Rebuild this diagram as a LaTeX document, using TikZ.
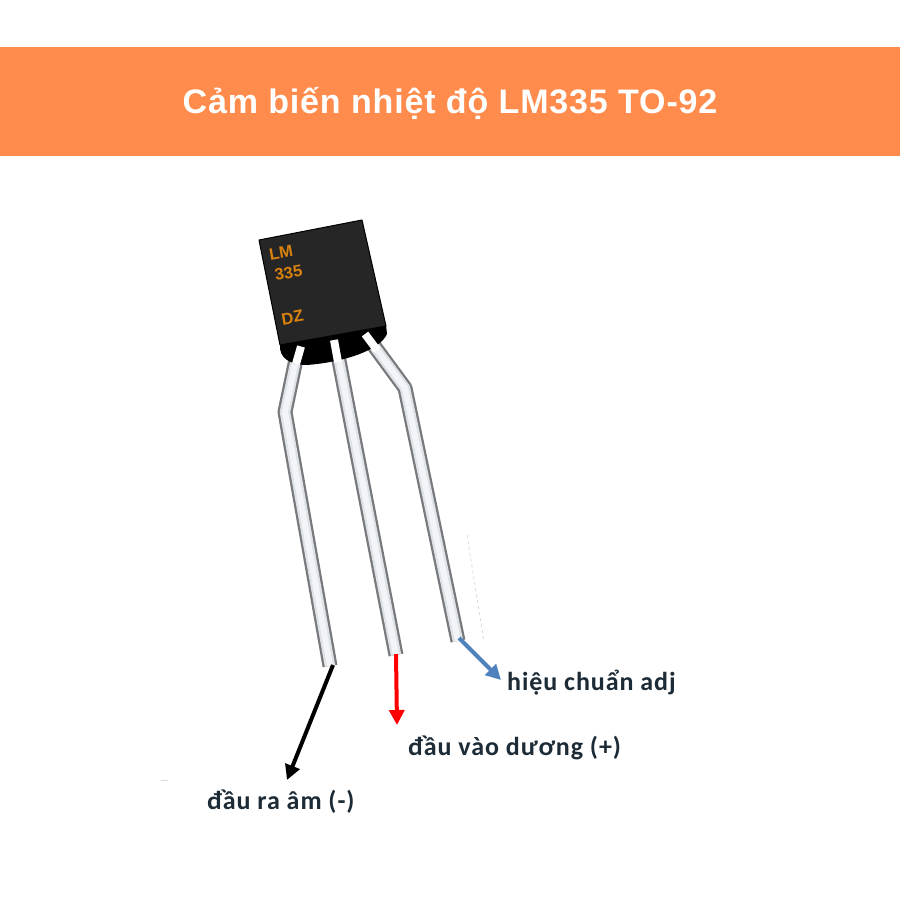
\documentclass[tikz,border=0pt]{standalone}
\usepackage{fontspec}
\setmainfont{Liberation Sans}
\newfontfamily\titlefont[LetterSpace=2.5]{Liberation Sans}
\newfontfamily\labelfont[LetterSpace=3.6]{Carlito}
\usetikzlibrary{arrows.meta}
\definecolor{bannerorange}{HTML}{FF8C4C}
\definecolor{bodygrey}{HTML}{262626}
\definecolor{printorange}{HTML}{D9820F}
\definecolor{labelink}{HTML}{1C2B36}
\definecolor{pinedge}{HTML}{77797C}
\definecolor{pinface}{HTML}{DFE3E7}
\definecolor{pincentre}{HTML}{F2F5F8}
\definecolor{adjblue}{HTML}{4F81BD}
\tikzset{
  pinouter/.style={draw=pinedge,line width=15pt,line join=round},
  pininner/.style={draw=pinface,line width=10.5pt,line join=round},
  pincore/.style={draw=pincentre,line width=6pt,line join=round},
  pinlabel/.style={font=\labelfont\bfseries\fontsize{26}{28}\selectfont,text=labelink,inner sep=0pt,anchor=base west},
  printmark/.style={font=\bfseries\fontsize{16.5}{17}\selectfont,text=printorange,inner sep=0pt,rotate=10},
  leadarrow/.style={line width=4pt,-{Triangle[length=15pt,width=15pt]}}
}
\begin{document}
\begin{tikzpicture}[x=1pt,y=-1pt]
\useasboundingbox (0,0) rectangle (900,900);
\fill[white] (0,0) rectangle (900,900);
\fill[bannerorange] (0,47) rectangle (900,156);
\node[font=\titlefont\bfseries\fontsize{34}{38}\selectfont,text=white,inner sep=0pt,anchor=base] (title) at (450,113.5) {Cảm biến nhiệt độ LM335 TO-92};

% pins
\coordinate (p1a) at (299,345);
\coordinate (p1b) at (285,412);
\coordinate (p1c) at (330,666);
\coordinate (p2a) at (336,345);
\coordinate (p2b) at (396,655);
\coordinate (p3a) at (366,335);
\coordinate (p3b) at (405,388);
\coordinate (p3c) at (458,641);
\foreach \s in {pinouter,pininner,pincore}{
  \draw[\s] (p1a) -- (p1b) -- (p1c);
  \draw[\s] (p2a) -- (p2b);
  \draw[\s] (p3a) -- (p3b) -- (p3c);
}
% faint scan marks
\draw[black!14,line width=0.8pt,dashed] (467,535) -- (484,642);
\draw[black!14,line width=1.5pt] (161,780.5) -- (168,780.5);

% body
\fill[black] (280,345) -- (386,325) -- (387,334)
  .. controls (380,350) and (345,362) .. (307,365)
  .. controls (290,365) and (279,358) .. cycle;
\fill[bodygrey,draw=black,line width=1pt,line join=round] (259,240) -- (362,220) -- (386,326) -- (280,345) -- cycle;
% pin tops over the cap
\draw[white,line width=8pt] (301,346.5) -- (296,364);
\draw[white,line width=8pt] (334,340) -- (338,362);
\draw[white,line width=8pt] (365,334) -- (377,350);

\node[printmark] (m1) at (281,253) {LM};
\node[printmark] (m2) at (288.5,273) {335};
\node[printmark] (m3) at (292.5,317.5) {DZ};

% lead arrows
\coordinate (a1) at (333,665);
\coordinate (a1e) at (287,780);
\coordinate (a2) at (396,654);
\coordinate (a2e) at (397,725);
\coordinate (a3) at (459,638);
\coordinate (a3e) at (501,680);
\draw[leadarrow,draw=black,fill=black] (a1) -- (a1e);
\draw[leadarrow,draw=red,fill=red] (a2) -- (a2e);
\draw[leadarrow,draw=adjblue,fill=adjblue] (a3) -- (a3e);

\node[pinlabel] (l3) at (507,690) {hiệu chuẩn adj};
\node[pinlabel] (l2) at (408,755) {đầu vào dương (+)};
\node[pinlabel] (l1) at (207,809) {đầu ra âm (-)};
\end{tikzpicture}
\end{document}
